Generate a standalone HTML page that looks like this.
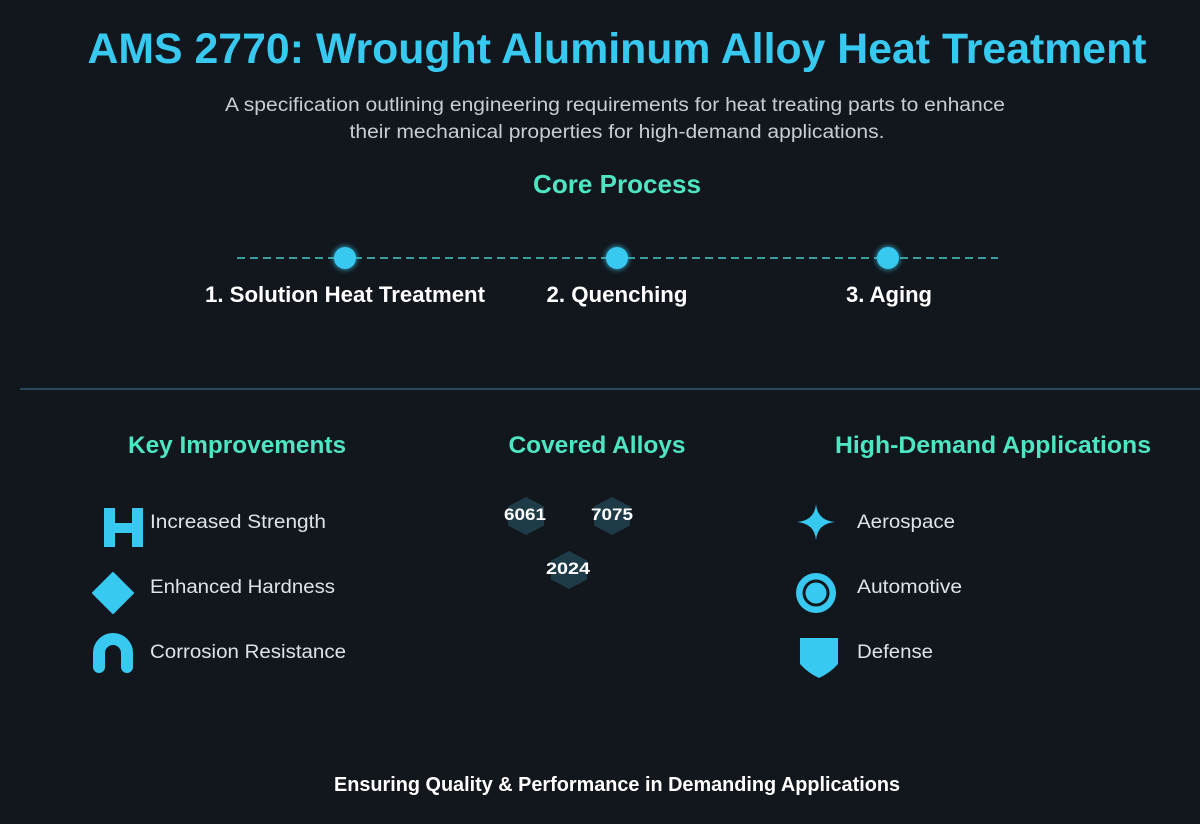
<!DOCTYPE html>
<html><head><meta charset="utf-8"><style>
html,body{margin:0;padding:0;background:#12161d;}
svg{display:block;}
text{font-family:"Liberation Sans",Arial,sans-serif;}
</style></head><body>
<svg width="1200" height="824" viewBox="0 0 1200 824" xmlns="http://www.w3.org/2000/svg">
<defs>
<filter id="glow" x="-100%" y="-100%" width="300%" height="300%">
<feGaussianBlur stdDeviation="3" result="b"/>
<feMerge><feMergeNode in="b"/><feMergeNode in="SourceGraphic"/></feMerge>
</filter>
</defs>
<rect width="1200" height="824" fill="#12161d"/>

<text x="617" y="63" font-size="43" font-weight="bold" fill="#38c9f0" text-anchor="middle" textLength="1059" lengthAdjust="spacingAndGlyphs">AMS 2770: Wrought Aluminum Alloy Heat Treatment</text>

<text x="615" y="111" font-size="19" fill="#c9cdd3" text-anchor="middle" textLength="780" lengthAdjust="spacingAndGlyphs">A specification outlining engineering requirements for heat treating parts to enhance</text>
<text x="617" y="138" font-size="19" fill="#c9cdd3" text-anchor="middle" textLength="535" lengthAdjust="spacingAndGlyphs">their mechanical properties for high-demand applications.</text>

<text x="617" y="193" font-size="26" font-weight="bold" fill="#4ee6c2" text-anchor="middle" textLength="168" lengthAdjust="spacingAndGlyphs">Core Process</text>

<line x1="237" y1="258" x2="998" y2="258" stroke="#3a9e9c" stroke-width="2" stroke-dasharray="8,5"/>
<circle cx="345" cy="258" r="11" fill="#38c9f0" filter="url(#glow)"/>
<circle cx="617" cy="258" r="11" fill="#38c9f0" filter="url(#glow)"/>
<circle cx="888" cy="258" r="11" fill="#38c9f0" filter="url(#glow)"/>

<text x="345" y="302" font-size="22" font-weight="bold" fill="#ffffff" text-anchor="middle" textLength="280" lengthAdjust="spacingAndGlyphs">1. Solution Heat Treatment</text>
<text x="617" y="302" font-size="22" font-weight="bold" fill="#ffffff" text-anchor="middle" textLength="141" lengthAdjust="spacingAndGlyphs">2. Quenching</text>
<text x="889" y="302" font-size="22" font-weight="bold" fill="#ffffff" text-anchor="middle" textLength="86" lengthAdjust="spacingAndGlyphs">3. Aging</text>

<rect x="20" y="388" width="1180" height="2" fill="#27495a"/>

<text x="237" y="453" font-size="24" font-weight="bold" fill="#4ee6c2" text-anchor="middle" textLength="218" lengthAdjust="spacingAndGlyphs">Key Improvements</text>
<text x="597" y="453" font-size="24" font-weight="bold" fill="#4ee6c2" text-anchor="middle" textLength="177" lengthAdjust="spacingAndGlyphs">Covered Alloys</text>
<text x="993" y="453" font-size="24" font-weight="bold" fill="#4ee6c2" text-anchor="middle" textLength="316" lengthAdjust="spacingAndGlyphs">High-Demand Applications</text>

<!-- left icons -->
<g fill="#38c9f0">
<rect x="104" y="508" width="11" height="39"/>
<rect x="132" y="508" width="11" height="39"/>
<rect x="104" y="523" width="39" height="10"/>
<path d="M113 573 L133 593 L113 613 L93 593 Z" stroke="#38c9f0" stroke-width="2" stroke-linejoin="round"/>
</g>
<path d="M99 667 V653 A14 14 0 0 1 127 653 V667" fill="none" stroke="#38c9f0" stroke-width="12" stroke-linecap="round"/>

<text x="150" y="528" font-size="19" fill="#dfe2e6" textLength="176" lengthAdjust="spacingAndGlyphs">Increased Strength</text>
<text x="150" y="593" font-size="19" fill="#dfe2e6" textLength="185" lengthAdjust="spacingAndGlyphs">Enhanced Hardness</text>
<text x="150" y="658" font-size="19" fill="#dfe2e6" textLength="196" lengthAdjust="spacingAndGlyphs">Corrosion Resistance</text>

<!-- alloys -->
<g fill="#1e3c47">
<polygon points="526,497 544,506.5 544,525.5 526,535 508,525.5 508,506.5"/>
<polygon points="612,497 630,506.5 630,525.5 612,535 594,525.5 594,506.5"/>
<polygon points="569,551 587,560.5 587,579.5 569,589 551,579.5 551,560.5"/>
</g>
<text x="525" y="520" font-size="17" font-weight="bold" fill="#ffffff" text-anchor="middle" textLength="42" lengthAdjust="spacingAndGlyphs">6061</text>
<text x="612" y="520" font-size="17" font-weight="bold" fill="#ffffff" text-anchor="middle" textLength="42" lengthAdjust="spacingAndGlyphs">7075</text>
<text x="568" y="574" font-size="17" font-weight="bold" fill="#ffffff" text-anchor="middle" textLength="44" lengthAdjust="spacingAndGlyphs">2024</text>

<!-- right icons -->
<path d="M816 504 Q817.5 520.5 835 522 Q817.5 523.5 816 540 Q814.5 523.5 797 522 Q814.5 520.5 816 504 Z" fill="#38c9f0"/>
<circle cx="816" cy="593" r="20" fill="#38c9f0"/>
<circle cx="816" cy="593" r="13.5" fill="#12161d"/>
<circle cx="816" cy="593" r="10.5" fill="#38c9f0"/>
<path d="M800 638 H838 V664 Q830 673 819 678 Q808 673 800 664 Z" fill="#38c9f0"/>

<text x="857" y="528" font-size="19" fill="#dfe2e6" textLength="98" lengthAdjust="spacingAndGlyphs">Aerospace</text>
<text x="857" y="593" font-size="19" fill="#dfe2e6" textLength="105" lengthAdjust="spacingAndGlyphs">Automotive</text>
<text x="857" y="658" font-size="19" fill="#dfe2e6" textLength="76" lengthAdjust="spacingAndGlyphs">Defense</text>

<text x="617" y="791" font-size="20" font-weight="bold" fill="#ffffff" text-anchor="middle" textLength="566" lengthAdjust="spacingAndGlyphs">Ensuring Quality &amp; Performance in Demanding Applications</text>
</svg>
</body></html>
